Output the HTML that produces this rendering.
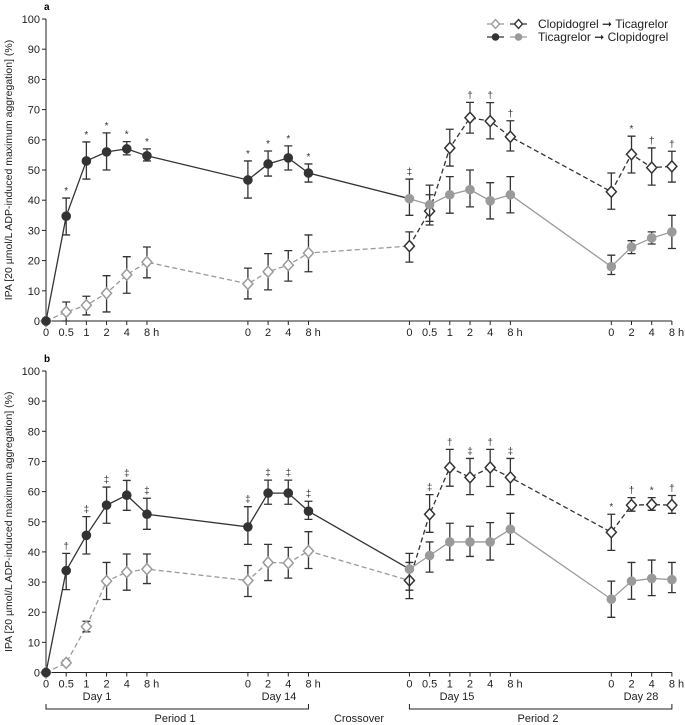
<!DOCTYPE html>
<html><head><meta charset="utf-8"><style>
body{margin:0;background:#fff}
svg{display:block;font-family:"Liberation Sans",sans-serif}
</style></head><body>
<svg id="c" width="685" height="725" viewBox="0 0 685 725" xmlns="http://www.w3.org/2000/svg"></svg>
<script>
// slot indices for each time point
const slots = [0,1,2,3,4,5, 10,11,12,13, 18,19,20,21,22,23, 28,29,30,31];
const tickLabels = ["0","0.5","1","2","4","8 h","0","2","4","8 h","0","0.5","1","2","4","8 h","0","2","4","8 h"];
const yTicks = [0,10,20,30,40,50,60,70,80,90,100];

// Panel a
const aTicVal = [0,34.7,53,56,57,54.7, 46.7,52,54,49, 40.5,38.5,41.8,43.5,39.8,41.8, 18,24.5,27.5,29.5];
const aTicLo  = [0,28.5,47,50,55,53, 40.7,48,50,46, 35,33,35.7,37.8,33.8,35.8, 15.4,22.3,25.5,24];
const aTicHi  = [0,40.7,59.3,62.3,59.4,57, 53,56.3,58,52, 47,45,47.8,50,45.8,47.8, 21.8,26.6,29.5,35];
const aClpVal = [0,3,5.2,9.2,15.3,19.5, 12.3,16.3,18.5,22.5, 24.8,36.4,57.3,67.3,66.2,61, 42.8,55.2,50.8,51.2];
const aClpLo  = [0,0,2,3,9.2,14.3, 7.3,10.3,13.2,16.3, 19.5,31.8,51.3,62.2,60.3,56.3, 37,49,45,46];
const aClpHi  = [0,6.3,8.2,15,21.3,24.5, 17.5,22.3,23.3,28.5, 29.5,41.8,63.5,72.4,72.3,66.3, 49,61.2,57.3,56.2];
const aTicMarks = ["","*","*","*","*","*","*","*","*","*","‡","","","","","","","","",""];
const aClpMarks = ["","","","","","","","","","","","","","†","†","†","","*","†","†"];

// Panel b
const bTicVal = [0,33.8,45.5,55.5,58.8,52.5, 48.3,59.5,59.5,53.5, 34.3,38.8,43.3,43.3,43.3,47.5, 24.3,30.3,31.2,30.8];
const bTicLo  = [0,27.5,39.3,49.5,53.8,47.5, 42.5,55.8,55.8,50.8, 27.3,33.3,37.3,38.5,37.3,42.5, 18.3,24.3,25.5,26.5];
const bTicHi  = [0,39.5,51.7,61.5,63.7,57.8, 55,63.8,63.8,56.8, 39.5,43.3,49.5,48.5,49.7,52.8, 30.3,36.5,37.3,36.5];
const bClpVal = [0,3.2,15.2,30.3,33.3,34.3, 30.5,36.5,36.3,40.3, 30.5,52.5,68,64.7,68,64.7, 46.5,55.5,55.7,55.5];
const bClpLo  = [0,2.5,13.5,24.2,27.3,29.5, 25.2,30.5,31.3,34.5, 24.5,46.5,61.8,59,61.7,59, 40.5,53.5,53.8,52.8];
const bClpHi  = [0,4,17,36.5,39.3,39.3, 35.5,42.5,41.5,46.7, 36.5,59,74,71,74,71, 52.5,58,58,58.7];
const bTicMarks = ["","†","‡","‡","‡","‡","‡","‡","‡","‡","","","","","","","","","",""];
const bClpMarks = ["","","","","","","","","","","","‡","†","‡","†","‡","*","†","*","†"];

const NS="http://www.w3.org/2000/svg";
const svg=document.getElementById('c');
function mk(tag,attrs,parent){const e=document.createElementNS(NS,tag);for(const k in attrs)e.setAttribute(k,attrs[k]);(parent||svg).appendChild(e);return e;}
const xOf = s => 46 + s*20.19;
const DARK="#333", GRAY="#9a9a9a";

function panel(p, y0, y100, tic, clp, label){
  const yOf = v => y0 - (v/100)*(y0-y100);
  const g=mk('g',{});
  
  
  const t=mk('text',{x:44,y:y100-9,'font-size':10,'font-weight':'bold'},g);t.textContent=label;
  
  const ya=mk('line',{x1:46,y1:y100,x2:46,y2:y0,stroke:'#222','stroke-width':1},g);
  
  const xa=mk('line',{x1:46,y1:y0,x2:xOf(31),y2:y0,stroke:'#222','stroke-width':1},g);
  
  yTicks.forEach(v=>{
    mk('line',{x1:42,y1:yOf(v),x2:46,y2:yOf(v),stroke:'#222'},g);
    const tt=mk('text',{x:40,y:yOf(v)+4,'font-size':11,'text-anchor':'end',fill:'#222'},g);tt.textContent=v;
    
  });
  slots.forEach((s,i)=>{
    mk('line',{x1:xOf(s),y1:y0,x2:xOf(s),y2:y0+4,stroke:'#222'},g);
    const lab=tickLabels[i];
    const tt=mk('text',{x:xOf(s)-(lab.endsWith('h')?3:0),y:y0+15,'font-size':11,'text-anchor':lab.endsWith('h')?'start':'middle',fill:'#222'},g);
    tt.textContent=lab;
    
  });
  const yt=mk('text',{transform:`translate(12,${(y0+y100)/2}) rotate(-90)`,'font-size':10.5,'text-anchor':'middle',fill:'#222'},g);
  yt.textContent='IPA [20 µmol/L ADP-induced maximum aggregation] (%)';
  

  function series(d, name){
    const [val,lo,hi,marks]=d;
    const segs=[[0,11,name==='tic'?DARK:GRAY,name==='tic'?'':'5,3'],[10,20,name==='tic'?GRAY:DARK,name==='tic'?'':'5,3']];
    segs.forEach(([a,b,col,dash],k)=>{
      let pts=[];for(let i=a;i<b;i++)pts.push(xOf(slots[i])+','+yOf(val[i]));
      const pl=mk('polyline',{points:pts.join(' '),fill:'none',stroke:col,'stroke-width':1.3,'stroke-dasharray':dash},g);
      
    });
    for(let i=0;i<20;i++){
      const col = (i<10)===(name==='tic')?DARK:GRAY;
      const x=xOf(slots[i]);
      if(hi[i]>lo[i]){
        const eb=mk('path',{d:`M${x},${yOf(lo[i])}V${yOf(hi[i])}M${x-4},${yOf(lo[i])}h8M${x-4},${yOf(hi[i])}h8`,stroke:'#333','stroke-width':1.3,fill:'none'},g);
        
      }
      const y=yOf(val[i]);
      let m;
      if(name==='tic') m=mk('circle',{cx:x,cy:y,r:4.3,fill:col,stroke:col},g);
      else m=mk('path',{d:`M${x},${y-5.5}L${x+5},${y}L${x},${y+5.5}L${x-5},${y}Z`,fill:'#fff',stroke:col,'stroke-width':1.5},g);
      
      if(marks[i]){
        const st=mk('text',{x:x,y:yOf(hi[i])-4,'font-size':10,'text-anchor':'middle',fill:'#333'},g);
        st.textContent=marks[i];
        
      }
    }
  }
  series(clp,'clp');
  series(tic,'tic');
}
panel('a',321,19,[aTicVal,aTicLo,aTicHi,aTicMarks],[aClpVal,aClpLo,aClpHi,aClpMarks],'a');
panel('b',672.5,371,[bTicVal,bTicLo,bTicHi,bTicMarks],[bClpVal,bClpLo,bClpHi,bClpMarks],'b');

const lg=mk('g',{});

function dia(x,y,c){mk('path',{d:`M${x},${y-4.5}L${x+4},${y}L${x},${y+4.5}L${x-4},${y}Z`,fill:'#fff',stroke:c,'stroke-width':1.4},lg);}
mk('line',{x1:487,y1:24,x2:504,y2:24,stroke:GRAY,'stroke-width':1.3},lg);dia(495.5,24,GRAY);
mk('line',{x1:510,y1:24,x2:527,y2:24,stroke:DARK,'stroke-width':1.3},lg);dia(518.5,24,DARK);
mk('line',{x1:487,y1:37,x2:504,y2:37,stroke:DARK,'stroke-width':1.3},lg);mk('circle',{cx:495.5,cy:37,r:3.8,fill:DARK},lg);
mk('line',{x1:510,y1:37,x2:527,y2:37,stroke:GRAY,'stroke-width':1.3},lg);mk('circle',{cx:518.5,cy:37,r:3.8,fill:GRAY},lg);
const l1=mk('text',{x:538,y:28,'font-size':12,fill:'#222'},lg);l1.textContent='Clopidogrel ➞ Ticagrelor';

const l2=mk('text',{x:538,y:41,'font-size':12,fill:'#222'},lg);l2.textContent='Ticagrelor ➞ Clopidogrel';


const br=mk('g',{});

[["Day 1",97],["Day 14",279],["Day 15",457],["Day 28",641]].forEach(([t,x])=>{const e=mk('text',{x:x,y:700,'font-size':11,'text-anchor':'middle',fill:'#222'},br);e.textContent=t;
});
mk('path',{d:`M${xOf(0)},704V709H${xOf(13)}V704`,fill:'none',stroke:'#222'},br);
mk('path',{d:`M${xOf(18)},704V709H${xOf(31)}V704`,fill:'none',stroke:'#222'},br);
[["Period 1",175],["Crossover",359],["Period 2",538]].forEach(([t,x])=>{const e=mk('text',{x:x,y:722,'font-size':11,'text-anchor':'middle',fill:'#222'},br);e.textContent=t;
});
</script>
</body></html>
